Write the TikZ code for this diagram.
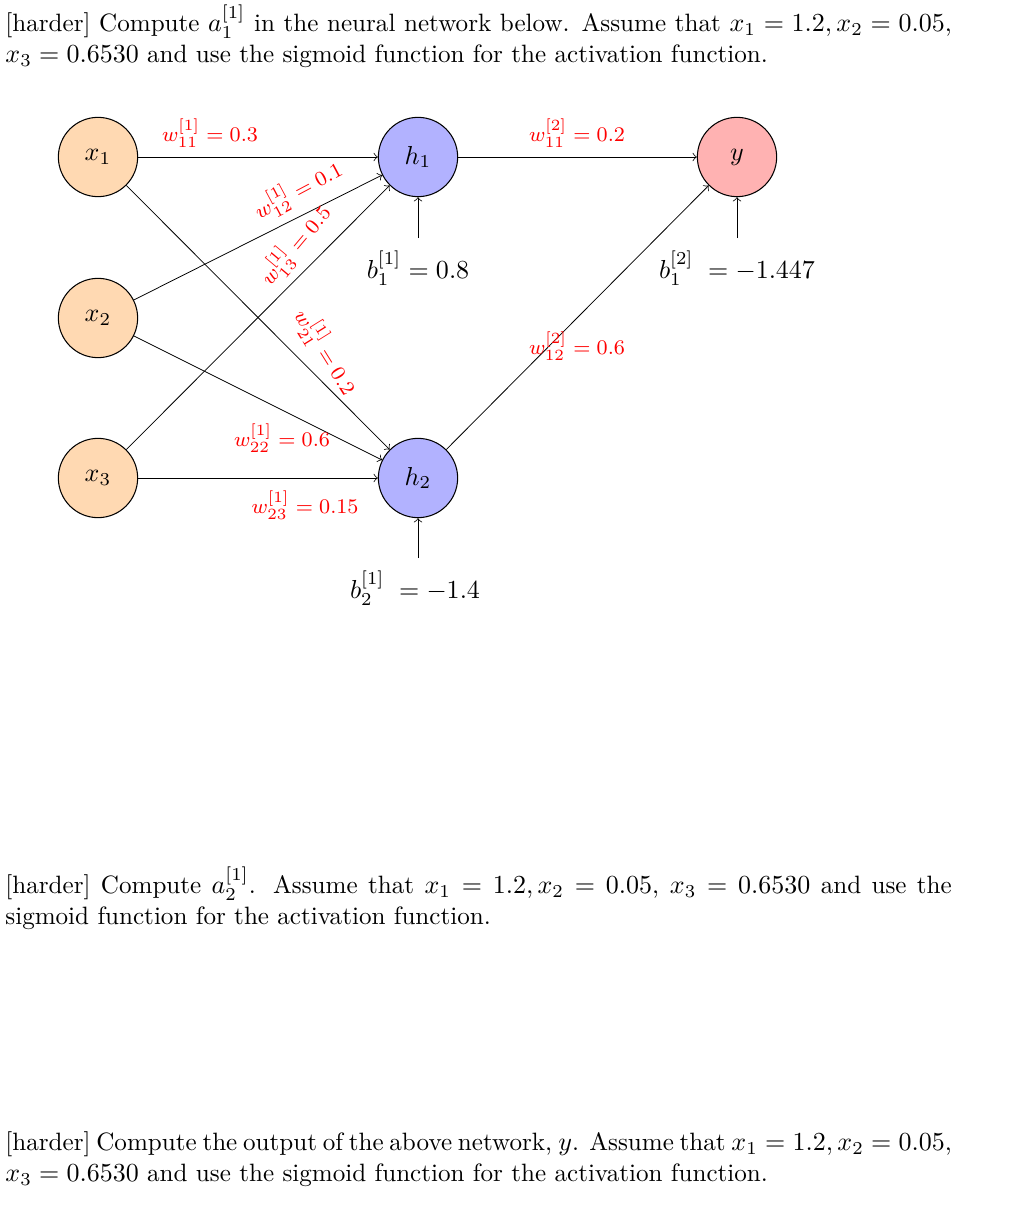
\documentclass[tikz,border=0pt]{standalone}
\usepackage{amsmath}
\begin{document}
\begin{tikzpicture}[x=0.3846pt,y=-0.3846pt,line width=0.3pt,
  neur/.style={circle,draw,line width=0.4pt,minimum size=30.5pt,inner sep=0pt},
  wl/.style={red,font=\footnotesize,inner sep=1pt},
  para/.style={anchor=north west,text width=364pt,align=justify,inner sep=0pt,font=\fontsize{9.65}{12}\selectfont},
  arr/.style={->,>=to}]
\useasboundingbox (0,0) rectangle (1010,1212);
\node[para] (t1) at (5,4)
 {[harder] Compute $a_1^{[1]}$ in the neural network below. Assume that $x_1=1.2, x_2=0.05$, $x_3=0.6530$ and use the sigmoid function for the activation function.};
\node[neur,fill=orange!30] (x1) at (98,157) {$x_1$};
\node[neur,fill=orange!30] (x2) at (98,318) {$x_2$};
\node[neur,fill=orange!30] (x3) at (98,478) {$x_3$};
\node[neur,fill=blue!30] (h1) at (418,157) {$h_1$};
\node[neur,fill=blue!30] (h2) at (418,478) {$h_2$};
\node[neur,fill=red!30] (y) at (737,157) {$y$};
\coordinate (bh1) at (418,238);
\coordinate (bh2) at (418,558);
\coordinate (by) at (737,238);
\draw[arr] (x1) -- (h1);
\draw[arr] (x1) -- (h2);
\draw[arr] (x2) -- (h1);
\draw[arr] (x2) -- (h2);
\draw[arr] (x3) -- (h1);
\draw[arr] (x3) -- (h2);
\draw[arr] (h1) -- (y);
\draw[arr] (h2) -- (y);
\draw[arr] (bh1) -- (h1);
\draw[arr] (bh2) -- (h2);
\draw[arr] (by) -- (y);
\node (lb1) at (418,268) {$b_1^{[1]}=0.8$};
\node (lb2) at (415,588) {$b_2^{[1]}\;=-1.4$};
\node (lby) at (737,268) {$b_1^{[2]}\;=-1.447$};
\node[wl] (l11) at (210,133) {$w_{11}^{[1]}=0.3$};
\node[wl] (l211) at (577,133) {$w_{11}^{[2]}=0.2$};
\node[wl,rotate=28] (l12) at (298,190) {$w_{12}^{[1]}=0.1$};
\node[wl,rotate=50] (l13) at (295,245) {$w_{13}^{[1]}=0.5$};
\node[wl,rotate=-58] (l21) at (326,352) {$w_{21}^{[1]}=0.2$};
\node[wl] (l22) at (282,438) {$w_{22}^{[1]}=0.6$};
\node[wl] (l23) at (305,505) {$w_{23}^{[1]}=0.15$};
\node[wl] (l212) at (577,346) {$w_{12}^{[2]}=0.6$};
\node[para] (t2) at (5,866)
 {[harder] Compute $a_2^{[1]}$. Assume that $x_1=1.2, x_2=0.05$, $x_3=0.6530$ and use the sigmoid function for the activation function.};
\node[para] (t3) at (5,1131)
 {[harder] Compute the output of the above network, $y$. Assume that $x_1=1.2, x_2=0.05$, $x_3=0.6530$ and use the sigmoid function for the activation function.};
\end{tikzpicture}
\end{document}
